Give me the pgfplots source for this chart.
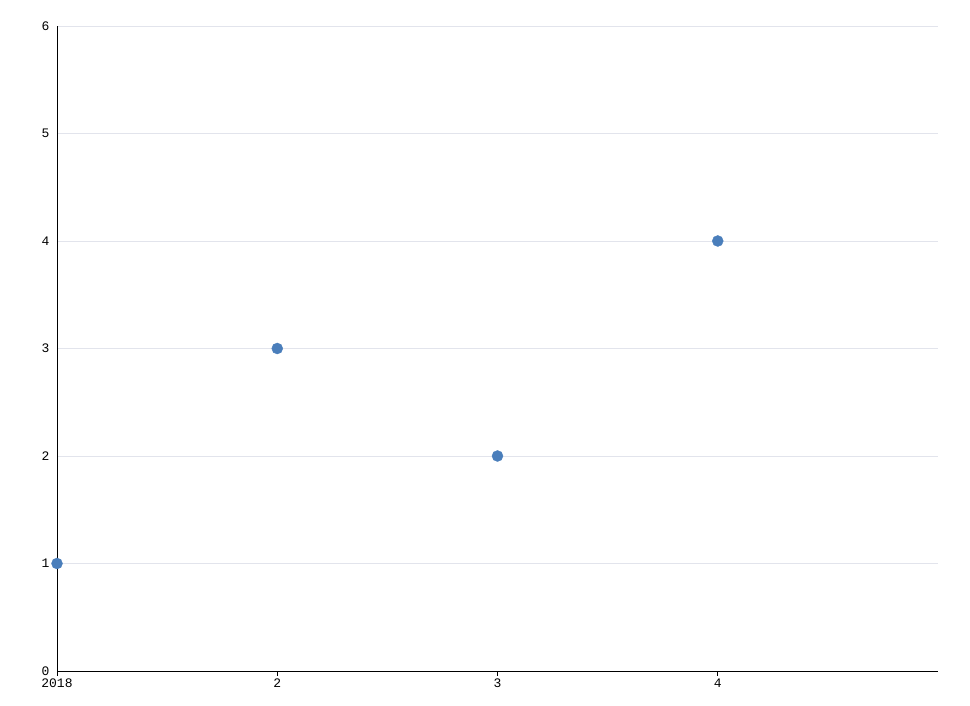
\documentclass[border=0pt]{standalone}
\usepackage{pgfplots}
\pgfplotsset{compat=1.18}
\usepackage{fontspec}
\setmainfont{Liberation Mono}
\definecolor{dotblue}{RGB}{74,126,187}
\definecolor{gridgray}{RGB}{226,228,236}
\begin{document}
\begin{tikzpicture}[x=1pt,y=1pt]
\useasboundingbox (0,0) rectangle (970,706);
\begin{axis}[
  at={(57pt,35pt)}, anchor=south west,
  scale only axis,
  width=881pt, height=645pt,
  xmin=0, xmax=4,
  ymin=0, ymax=6,
  axis x line*=bottom,
  axis y line*=left,
  xtick={0,1,2,3},
  xticklabels={2018,2,3,4},
  ytick={0,1,...,6},
  ymajorgrids,
  grid style={gridgray, line width=0.8pt},
  x tick style={black, line width=0.8pt},
  tick align=outside,
  major tick length=5pt,
  y tick style={draw=none},
  axis line style={black, line width=0.8pt, -},
  tick label style={font=\fontsize{13}{15}\selectfont},
  /pgf/number format/assume math mode=true,
  xticklabel style={yshift=1pt},
  yticklabel style={xshift=1pt},
  clip=false,
]
\addplot[only marks, mark=*, mark size=5.5pt, color=dotblue] coordinates {
  (0,1) (1,3) (2,2) (3,4)
};
\end{axis}
\end{tikzpicture}
\end{document}
